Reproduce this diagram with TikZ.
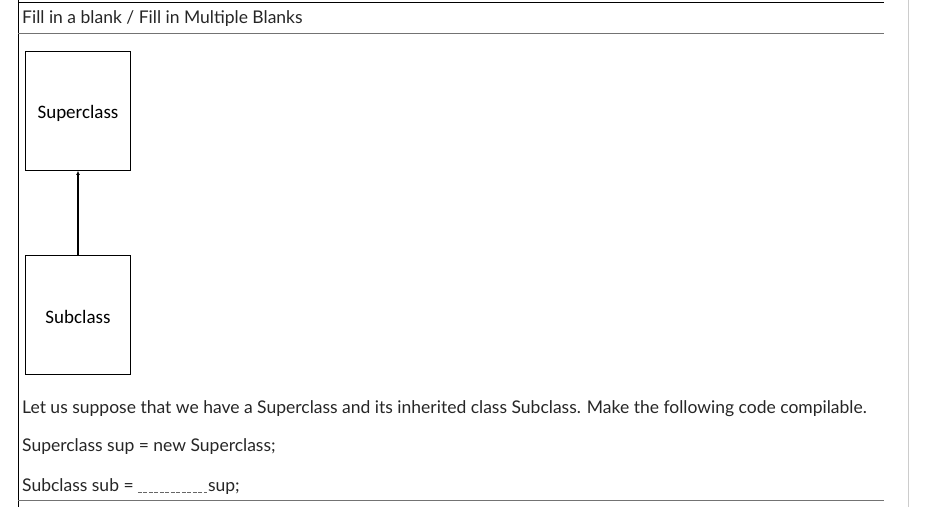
\documentclass[tikz,border=0pt]{standalone}
\usepackage{fontspec}
\setmainfont{Lato}
\newfontfamily\boxfont{Carlito}
\usetikzlibrary{arrows.meta}
\tikzset{
  classbox/.style={draw=black, thick, minimum width=105pt, minimum height=119pt, font=\boxfont\fontsize{19}{22}\selectfont},
  txt/.style={anchor=west, inner sep=0pt, font=\fontsize{17.5}{21}\selectfont, text=black!85},
  rule/.style={draw=black!55, line width=1pt}
}
\begin{document}
\begin{tikzpicture}[x=1pt,y=-1pt]
          \useasboundingbox (0,0) rectangle (950,507);
          %Rahmen
          \draw[line width=1pt] (18,0) -- (18,507);
          \draw[line width=1pt] (18,2) -- (884,2);
          \draw[rule] (18,33) -- (884,33);
          \draw[rule] (18,500) -- (884,500);
          \draw[black!20, line width=1pt] (908,0) -- (908,507);
          
          \node[txt] (title) at (22,19) {Fill in a blank / Fill in Multiple Blanks};
          
          %Klassen
          \node[classbox] (super) at (78,111) {\raisebox{-2pt}[\height][\depth]{Superclass}};
          \node[classbox] (sub) at (78,315) {\raisebox{-2pt}[\height][\depth]{Subclass}};
          \draw[line width=1.6pt, -{Latex[length=4pt,width=4pt]}] (sub.north) -- (super.south);
          
          %Frage
          \node[txt] (q) at (22,409) {Let us suppose that we have a Superclass and its inherited class Subclass. Make the following code compilable.};
          \node[txt] (l1) at (22,447) {Superclass sup = new Superclass;};
          \node[txt] (l2) at (22,485) {Subclass sub = };
          \coordinate (b1) at ([xshift=4pt,yshift=-1pt]l2.base east);
          \coordinate (b2) at ([xshift=69pt]b1);
          \draw[black!60, dash pattern=on 4pt off 1.5pt] (b1) -- (b2);
          \node[txt, anchor=base west] (l3) at ([xshift=1pt,yshift=1pt]b2) {sup;};
        \end{tikzpicture}
\end{document}
